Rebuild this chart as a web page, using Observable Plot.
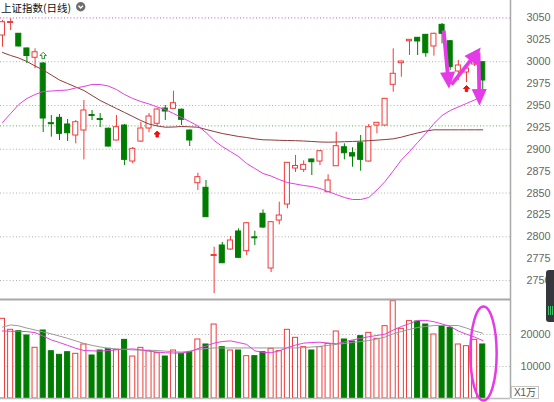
<!DOCTYPE html>
<html><head><meta charset="utf-8">
<script src="https://cdn.jsdelivr.net/npm/d3@7"></script>
<script src="https://cdn.jsdelivr.net/npm/@observablehq/plot@0.6"></script>
<style>
body{margin:0;background:#fff;}
#wrap{position:relative;width:554px;height:402px;overflow:hidden;background:#fff;}
#price,#vol{position:absolute;left:0;}
#price{top:0}
#vol{top:298px}
#title{position:absolute;left:1px;top:0.5px;font-size:10.5px;line-height:13px;font-family:"Noto Sans CJK SC",sans-serif;color:#111;white-space:nowrap}
#icon{position:absolute;left:75.8px;top:1.6px}
#unit{position:absolute;left:511px;top:385.5px;width:26px;height:11px;border:1px solid #c4c4c4;font-size:10px;line-height:11px;text-align:center;color:#555;font-family:"Liberation Sans","Noto Sans CJK SC",sans-serif;background:#fff}
#widget{position:absolute;left:546px;top:270px;width:8px;height:52px;background:#34373c;border-radius:3px 0 0 3px}
#widget div{position:absolute;left:2px;top:36px;width:5px;height:9px;background:repeating-linear-gradient(to right,#3fbf6a 0 1px,#1d3b2a 1px 2px)}
</style></head><body>
<div id="wrap">
  <div id="price"></div>
  <div id="vol"></div>
  <div id="title">上证指数(日线)</div>
  <svg id="icon" width="10" height="10" viewBox="0 0 10 10"><circle cx="4.7" cy="4.7" r="4.7" fill="#6e6e6e"/><path d="M2.5 3.7 L4.7 5.9 L6.9 3.7" fill="none" stroke="#fff" stroke-width="1.4"/></svg>
  <div id="unit">X1万</div>
  <div id="widget"><div></div></div>
</div>
<script>
// ---- data ----
const opens = [3029.9,3044.2,3031.9,3015.1,3004.5,2997.9,2929.8,2935.9,2928.3,2915.7,
  2921.4,2939.1,2934.5,2923.4,2910.0,2927.1,2886.0,2908.8,2923.7,2929.1,
  2946.5,2946.2,2945.1,2921.4,2861.2,2856.0,2778.1,2790.1,2785.5,2806.1,
  2783.6,2799.4,2826.3,2763.8,2818.6,2836.9,2878.0,2876.5,2888.3,2886.0,
  2850.9,2880.6,2902.3,2895.5,2906.9,2886.0,2927.1,2927.1,2973.6,2998.3,
  3023.4,3027.3,3030.7,3017.4,3042.1,3023.4,2988.8,2987.7,2996.8,2999.4];
const closes = [3045.1,3045.3,3017.4,3006.5,3010.8,2935.1,2928.6,2917.6,2918.3,2930.9,
  2944.3,2938.0,2933.4,2903.1,2925.2,2887.9,2900.5,2923.7,2937.4,2945.4,
  2943.1,2952.6,2933.6,2910.0,2868.1,2822.4,2779.2,2769.8,2795.8,2776.0,
  2815.5,2798.3,2810.6,2816.7,2824.3,2884.5,2880.9,2882.2,2885.2,2897.8,
  2864.3,2903.5,2895.5,2891.7,2887.9,2925.2,2930.2,2957.6,2986.2,3000.2,
  3025.0,3023.1,3009.7,3031.9,3031.9,2993.7,2995.7,2992.2,3003.7,2978.5];
const highs = [3047.1,3049.0,3032.2,3015.6,3014.7,2999.1,2938.5,2939.7,2934.0,2932.8,
  2955.7,2944.3,2940.8,2924.3,2938.5,2928.3,2902.0,2930.6,2940.8,2946.5,
  2950.0,2966.3,2946.0,2922.0,2872.6,2864.3,2788.1,2793.5,2800.3,2809.1,
  2816.3,2806.4,2830.8,2817.5,2839.5,2884.9,2892.9,2886.8,2888.9,2898.6,
  2870.8,2919.5,2906.2,2901.7,2915.7,2928.3,2930.6,2958.0,3014.7,3000.8,
  3025.4,3027.6,3031.1,3032.5,3043.6,3024.2,3001.4,2995.7,3010.5,2999.7];
const lows = [3016.6,3035.6,3016.8,2997.9,2991.9,2919.1,2913.8,2910.0,2908.8,2906.2,
  2887.9,2932.8,2924.8,2902.6,2909.4,2881.4,2883.4,2907.7,2918.8,2926.0,
  2932.8,2946.0,2927.1,2903.1,2852.9,2822.0,2735.2,2769.5,2784.4,2775.2,
  2778.6,2790.1,2809.5,2759.2,2813.7,2832.0,2873.4,2873.4,2870.0,2881.4,
  2850.6,2880.3,2887.9,2879.5,2874.9,2885.4,2917.6,2926.6,2965.2,2982.3,
  3007.1,3007.1,3005.1,3006.3,3020.4,2990.0,2978.5,2976.2,2994.5,2965.2];
const volumes = [24900,21460,21030,19690,15840,21250,14780,13650,14470,13960,
  16880,13440,15000,15520,15210,18330,13120,15830,14790,14170,
  13120,15000,13960,14470,18440,16880,23120,16040,15000,15000,
  13230,13230,14470,15520,14790,21460,18960,16040,15000,16040,
  17080,20940,18440,17810,19480,20520,18650,22600,30400,21770,
  24170,24060,23120,20000,22600,22080,16880,16350,18330,16880];
const maPink = [2930.6,2940.8,2951.1,2958.0,2962.5,2966.0,2966.5,2967.1,2967.7,2970.0,
  2971.7,2974.0,2974.0,2972.2,2968.2,2962.5,2958.0,2954.5,2951.7,2948.3,
  2945.4,2940.8,2936.3,2931.7,2926.6,2919.1,2910.0,2903.1,2897.4,2891.7,
  2883.7,2878.0,2872.3,2869.4,2865.4,2862.0,2860.3,2858.6,2857.4,2855.2,
  2851.7,2848.3,2844.9,2842.6,2842.6,2844.9,2853.5,2863.2,2875.3,2887.7,
  2897.4,2907.7,2918.0,2929.4,2938.5,2944.3,2948.3,2952.3,2956.3,2960.8];
const maBrown = [3010.5,3007.1,3004.2,3000.2,2995.1,2990.5,2984.8,2979.1,2975.1,2971.1,
  2967.1,2961.4,2955.7,2951.1,2946.5,2942.0,2937.4,2932.8,2928.8,2926.6,
  2925.2,2925.4,2926.0,2925.6,2925.2,2922.6,2920.3,2918.0,2916.3,2914.6,
  2913.4,2911.9,2910.8,2910.6,2910.2,2910.0,2909.8,2909.4,2908.9,2908.3,
  2908.1,2908.3,2908.6,2908.9,2909.2,2909.8,2910.4,2911.1,2911.9,2913.8,
  2916.3,2918.6,2920.8,2922.2,2922.2,2922.2,2922.2,2922.2,2922.2,2922.2];
const volMa5 = [21100,21000,21000,20900,20600,19500,18300,17500,16600,15700,
  15000,14900,14800,15000,15200,15400,15500,15200,14800,14500,
  14300,14200,14200,14600,15600,16400,17300,17800,18000,17500,
  16900,14900,14400,14300,14900,15900,16700,17300,17500,17600,
  17300,17100,17700,18300,18800,19300,19700,20100,21400,22500,
  23400,24400,24400,24000,23300,22500,21100,20100,19200,18100];
const volMa10 = [22300,23000,22700,22000,21400,20800,20200,19500,18800,18000,
  17200,16600,16100,15700,15500,15300,15200,15100,15100,15000,
  14800,14600,14500,14800,15300,15600,15800,15800,15800,15800,
  15800,15800,15800,15800,15800,15800,15800,15900,16100,16300,
  16600,16900,17200,17500,17800,18100,18600,19200,20200,20900,
  21600,22200,22500,22800,22800,22800,22800,22000,21100,20400];
const priceTicks = [3050,3025,3000,2975,2950,2925,2900,2875,2850,2825,2800,2775,2750];
const priceGrid = [3000,2950,2900,2850,2800,2750];
const pinkLevel = [3050];
const greenLevel = [2926.7];
const volTicks = [20000,10000];
// signals: index, price, kind
const signals = [{i:5,p:3007.1,kind:"green"},{i:19,p:2917.4,kind:"red"},{i:57,p:2969.4,kind:"red"}];
// hand-drawn annotation arrows (index / price units)
const annoArrows = [
  {x1:54.2,y1:3035.6,x2:54.85,y2:2970.5},
  {x1:55.16,y1:2973.9,x2:58.66,y2:3015.1},
  {x1:58.48,y1:3010.5,x2:58.6,y2:2951.1}];
const annoEllipse = [{i:59.09,v:14063}];

// ---- config ----
const W = 554, PRICE_H = 299, MR = 44;
const xDomain = [-0.2457, 62.408];
const priceDomain = [2728.4, 3069.9];
const volDomain = [0, 30937.5];
const RED = "#f03a3a", GREEN = "#007d00", PINK = "#e040e0", BROWN = "#8e3b3b", ANNO = "#e53ae8";

const candles = opens.map((o, i) => ({i, open:o, close:closes[i], high:highs[i], low:lows[i],
  vol:volumes[i], ma1:maPink[i], ma2:maBrown[i], vma5:volMa5[i], vma10:volMa10[i]}));
const isUp = d => d.close >= d.open;
const half = 0.31;

// arrow geometry in pixel terms (for filled heads)
const pxX = (W - MR) / (xDomain[1] - xDomain[0]);
const pxY = PRICE_H / (priceDomain[1] - priceDomain[0]);
const HEAD = 15;
const arrowParts = annoArrows.map(a => {
  const dx = (a.x2 - a.x1) * pxX, dy = -(a.y2 - a.y1) * pxY;
  const len = Math.hypot(dx, dy), t = 1 - (HEAD - 4) / len;
  return {x1:a.x1, y1:a.y1, x2:a.x1 + (a.x2 - a.x1) * t, y2:a.y1 + (a.y2 - a.y1) * t,
    tx:a.x2, ty:a.y2, rot:Math.atan2(dx / len, -dy / len) * 180 / Math.PI};
});

const upArrow = {draw(ctx, size){ const r = Math.sqrt(size/Math.PI);
  ctx.moveTo(0,-r); ctx.lineTo(r,0); ctx.lineTo(0.4*r,0); ctx.lineTo(0.4*r,r);
  ctx.lineTo(-0.4*r,r); ctx.lineTo(-0.4*r,0); ctx.lineTo(-r,0); ctx.closePath(); }};
const headSym = {draw(ctx, size){ const r = Math.sqrt(size/Math.PI);
  ctx.moveTo(0,0); ctx.lineTo(0.45*r, r); ctx.lineTo(-0.45*r, r); ctx.closePath(); }};
const ellipseSym = {draw(ctx, size){ const r = Math.sqrt(size/Math.PI); const rx = r*0.28, ry = r, k = 0.5523;
  ctx.moveTo(rx,0);
  ctx.bezierCurveTo(rx,k*ry,k*rx,ry,0,ry);
  ctx.bezierCurveTo(-k*rx,ry,-rx,k*ry,-rx,0);
  ctx.bezierCurveTo(-rx,-k*ry,-k*rx,-ry,0,-ry);
  ctx.bezierCurveTo(k*rx,-ry,rx,-k*ry,rx,0); ctx.closePath(); }};

const labelStyle = {fill:"#666", fontSize:10.8, fontFamily:"Liberation Sans, Arial, sans-serif", textAnchor:"end", dx:40};
const dotted = "1,2.2";

const pricePlot = Plot.plot({
  width:W, height:PRICE_H, marginTop:0, marginBottom:0, marginLeft:0, marginRight:MR,
  x:{domain:xDomain, axis:null},
  y:{domain:priceDomain, axis:null},
  color:{type:"identity"},
  style:{background:"transparent", overflow:"visible"},
  marks:[
    Plot.ruleY(priceGrid, {stroke:"#b0b0b0", strokeDasharray:dotted}),
    Plot.ruleY(greenLevel, {stroke:"#4fb04f", strokeDasharray:dotted}),
    Plot.ruleY(pinkLevel, {stroke:"#d84ad8", strokeDasharray:dotted}),
    Plot.ruleX(candles, {x:"i", y1:"low", y2:"high", stroke:d => isUp(d) ? RED : GREEN}),
    Plot.rect(candles, {x1:d => d.i - half, x2:d => d.i + half, y1:"open", y2:"close",
      fill:d => isUp(d) ? "white" : GREEN, stroke:d => isUp(d) ? RED : GREEN, strokeWidth:1}),
    Plot.line(candles, {x:"i", y:"ma2", stroke:BROWN, strokeWidth:1}),
    Plot.line(candles, {x:"i", y:"ma1", stroke:PINK, strokeWidth:1}),
    Plot.dot(signals, {x:"i", y:"p", r:d => d.kind === "green" ? 5.3 : 4.6, symbol:upArrow,
      fill:d => d.kind === "green" ? "white" : "#f01010",
      stroke:d => d.kind === "green" ? "#2a9a2a" : "#f01010", strokeWidth:1}),
    Plot.link(arrowParts, {x1:"x1", y1:"y1", x2:"x2", y2:"y2", stroke:ANNO, strokeWidth:3.8}),
    Plot.dot(arrowParts, {x:"tx", y:"ty", r:HEAD, rotate:"rot", symbol:headSym, fill:ANNO, stroke:ANNO, strokeWidth:1}),
    Plot.ruleX([xDomain[1]], {stroke:"#a9a9a9", strokeWidth:1.5}),
    Plot.text(priceTicks, {x:() => xDomain[1], y:d => d, text:d => String(d), ...labelStyle})
  ]
});
document.getElementById("price").append(pricePlot);

const volPlot = Plot.plot({
  width:W, height:104, marginTop:1, marginBottom:4, marginLeft:0, marginRight:MR,
  x:{domain:xDomain, axis:null},
  y:{domain:volDomain, axis:null},
  color:{type:"identity"},
  style:{background:"transparent", overflow:"visible"},
  marks:[
    Plot.ruleY(volTicks, {stroke:"#b0b0b0", strokeDasharray:dotted}),
    Plot.rect(candles, {x1:d => d.i - half, x2:d => d.i + half, y1:() => 0, y2:"vol",
      fill:d => isUp(d) ? "white" : GREEN, stroke:d => isUp(d) ? RED : GREEN, strokeWidth:1}),
    Plot.line(candles, {x:"i", y:"vma10", stroke:"#9a9a9a", strokeWidth:1}),
    Plot.line(candles, {x:"i", y:"vma5", stroke:PINK, strokeWidth:1}),
    Plot.ruleY([volDomain[1]], {stroke:"#a8a8a8", strokeWidth:2}),
    Plot.ruleY([volDomain[0]], {stroke:"#bdbdbd", strokeWidth:1.5}),
    Plot.ruleX([xDomain[1]], {stroke:"#a9a9a9", strokeWidth:1.5}),
    Plot.text(volTicks, {x:() => xDomain[1], y:d => d, text:d => String(d), ...labelStyle}),
    Plot.dot(annoEllipse, {x:"i", y:"v", r:47, symbol:ellipseSym, fill:"none", stroke:ANNO, strokeWidth:2.5})
  ]
});
document.getElementById("vol").append(volPlot);
</script>
</body></html>
